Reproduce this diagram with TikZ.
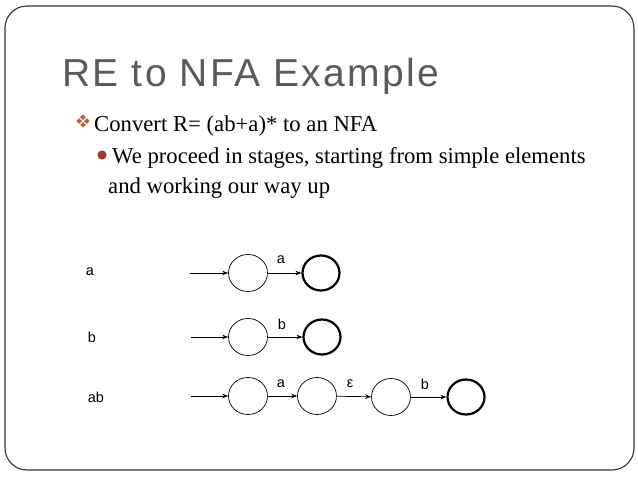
\documentclass[tikz,border=0pt]{standalone}
\usepackage{fontspec}
\setmainfont{Liberation Serif}
\newfontfamily\titlefont[LetterSpace=6]{Liberation Sans}
\newfontfamily\lblfont{Liberation Sans}
\usetikzlibrary{arrows.meta,shapes.geometric}
\definecolor{titlegray}{HTML}{5A5A5A}
\definecolor{bulletred}{HTML}{9E3A26}
\definecolor{diamondc}{HTML}{C0603A}
\begin{document}
\begin{tikzpicture}[x=1pt,y=-1pt,
  state/.style={draw, ellipse, minimum width=39pt, minimum height=37pt, inner sep=0pt, line width=0.7pt},
  final/.style={state, line width=2.2pt, minimum width=37pt, minimum height=35pt},
  trans/.style={-{Stealth[length=6pt,width=4.5pt]}, line width=0.7pt},
  lbl/.style={font=\lblfont\fontsize{14.5}{16}\selectfont, inner sep=0pt},
  body/.style={font=\fontsize{22.7}{26}\selectfont, inner sep=0pt, anchor=base west}]
\useasboundingbox (0,0) rectangle (638,479);
\draw[line width=1.1pt, color=black!80, rounded corners=22pt] (5,6) rectangle (634,470);
% title
\node[anchor=base west, inner sep=0pt, text=titlegray, font=\titlefont\fontsize{39}{42}\selectfont] (title) at (62,86) {RE to NFA Example};
% diamond bullet
\foreach \dx/\dy in {0/-3.8,0/3.8,-3.8/0,3.8/0}
  \fill[diamondc] (83+\dx,121+\dy) +(0,-2.8) -- +(2.8,0) -- +(0,2.8) -- +(-2.8,0) -- cycle;
\node[body] (l1) at (94,131) {Convert R= (ab+a)* to an NFA};
\fill[bulletred] (102,155) circle (4.6pt);
\node[body] (l2) at (112,163) {We proceed in stages, starting from simple elements};
\node[body] (l3) at (108,193) {and working our way up};
% row labels
\node[lbl] (ra) at (90,272) {a};
\node[lbl] (rb) at (92,337) {b};
\node[lbl] (rab) at (96,397) {ab};
% row 1
\node[state] (a1) at (248,273) {};
\node[final] (a2) at (321,273) {};
\coordinate (a0) at (190,273);
\draw[trans] (a0) -- (a1);
\draw[trans] (a1) -- (a2);
\node[lbl] (la) at (281,260) {a};
% row 2
\node[state] (b1) at (248,337) {};
\node[final] (b2) at (322,337) {};
\coordinate (b0) at (191,337);
\draw[trans] (b0) -- (b1);
\draw[trans] (b1) -- (b2);
\node[lbl] (lb) at (282,324) {b};
% row 3
\node[state] (c1) at (248,396) {};
\node[state] (c2) at (317,396) {};
\node[state] (c3) at (391,397) {};
\node[final] (c4) at (466,397) {};
\coordinate (c0) at (191,396);
\draw[trans] (c0) -- (c1);
\draw[trans] (c1) -- (c2);
\draw[trans] (c2) -- (c3);
\draw[trans] (c3) -- (c4);
\node[lbl] (lc1) at (281,384) {a};
\node[lbl] (lc2) at (350,384) {ε};
\node[lbl] (lc3) at (425,384) {b};
\end{tikzpicture}
\end{document}
